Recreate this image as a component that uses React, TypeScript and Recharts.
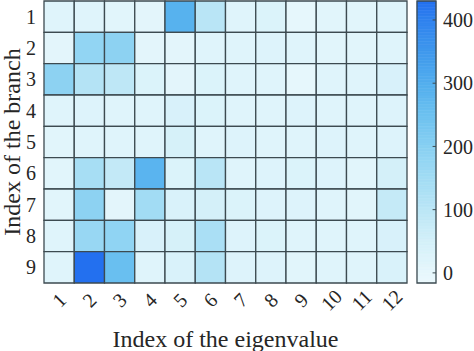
import React from 'react';
import { ComposedChart, XAxis, YAxis, ReferenceArea, ReferenceLine, Scatter, Label } from 'recharts';

const eigenIndex = [1, 2, 3, 4, 5, 6, 7, 8, 9, 10, 11, 12];
const branchIndex = [1, 2, 3, 4, 5, 6, 7, 8, 9];

const branch1 = [20, 20, 15, 10, 290, 105, 20, 30, 0, 15, 15, 20];
const branch2 = [10, 180, 190, 10, 10, 20, 20, 25, 20, 15, 15, 20];
const branch3 = [190, 115, 95, 30, 10, 30, 20, 20, 0, 20, 20, 40];
const branch4 = [20, 25, 20, 20, 40, 30, 20, 20, 25, 20, 20, 25];
const branch5 = [15, 20, 20, 20, 45, 20, 25, 20, 20, 25, 20, 25];
const branch6 = [15, 140, 85, 285, 30, 105, 20, 25, 30, 25, 15, 50];
const branch7 = [15, 190, 10, 150, 35, 50, 30, 25, 25, 20, 15, 80];
const branch8 = [20, 170, 185, 40, 45, 135, 25, 30, 20, 20, 20, 40];
const branch9 = [20, 430, 255, 20, 35, 115, 25, 25, 15, 20, 20, 35];

const branchValues = [branch1, branch2, branch3, branch4, branch5, branch6, branch7, branch8, branch9];

const colorTicks = [0, 100, 200, 300, 400];
const colorMin = -16;
const colorMax = 430;

const stops: [number, string][] = [
  [-16, '#ecf9fd'],
  [50, '#d4f0f9'],
  [100, '#bbe6f6'],
  [150, '#a2dcf4'],
  [200, '#88d0f2'],
  [250, '#6cc1f0'],
  [300, '#52aeee'],
  [350, '#3f98ed'],
  [400, '#2f82ee'],
  [430, '#2370ef'],
];

function hexToRgb(h: string) {
  return [parseInt(h.slice(1, 3), 16), parseInt(h.slice(3, 5), 16), parseInt(h.slice(5, 7), 16)];
}

function colorFor(v: number) {
  if (v <= stops[0][0]) return stops[0][1];
  for (let i = 1; i < stops.length; i++) {
    if (v <= stops[i][0]) {
      const [v0, c0] = stops[i - 1];
      const [v1, c1] = stops[i];
      const t = (v - v0) / (v1 - v0);
      const a = hexToRgb(c0);
      const b = hexToRgb(c1);
      const m = a.map((x, k) => Math.round(x + (b[k] - x) * t));
      return `rgb(${m[0]},${m[1]},${m[2]})`;
    }
  }
  return stops[stops.length - 1][1];
}

const cells = branchIndex.flatMap((b, i) =>
  eigenIndex.map((e, j) => ({ e, b, v: branchValues[i][j] }))
);

const STEPS = 90;
const colorSteps = Array.from({ length: STEPS }, (_, k) => {
  const lo = colorMin + ((colorMax - colorMin) * k) / STEPS;
  const hi = colorMin + ((colorMax - colorMin) * (k + 1)) / STEPS;
  return { x: 0.5, y: (lo + hi) / 2, lo, hi, c: colorFor((lo + hi) / 2) };
});

const FONT = "'Liberation Serif', 'Times New Roman', serif";
const TEXT = '#262626';
const GRID = '#3c4a50';

const XTick = (props: any) => {
  const { x, y, payload } = props;
  const cy = y + 17;
  return (
    <text
      x={x}
      y={cy}
      transform={`rotate(-45, ${x}, ${cy})`}
      textAnchor="middle"
      dominantBaseline="central"
      fontFamily={FONT}
      fontSize={20}
      fill={TEXT}
    >
      {payload.value}
    </text>
  );
};

const YLabel = (props: any) => {
  const vb = props.viewBox || {};
  const cx = 20;
  const cy = (vb.y ?? 1) + (vb.height ?? 282) / 2;
  return (
    <text
      x={cx}
      y={cy}
      transform={`rotate(-90, ${cx}, ${cy})`}
      textAnchor="middle"
      fontFamily={FONT}
      fontSize={24}
      fill={TEXT}
    >
      Index of the branch
    </text>
  );
};

export default function App() {
  return (
    <div style={{ position: 'absolute', left: 0, top: 0, width: 474, height: 351, background: '#fff' }}>
      <ComposedChart
        width={474}
        height={351}
        data={cells}
        margin={{ top: 1, right: 67, left: 0, bottom: 0 }}
        style={{ position: 'absolute', left: 0, top: 0 }}
      >
        <XAxis
          type="number"
          dataKey="e"
          domain={[0.5, 12.5]}
          ticks={eigenIndex}
          interval={0}
          axisLine={false}
          tickLine={false}
          tickSize={0}
          tickMargin={0}
          height={68}
          tick={<XTick />}
          allowDataOverflow
        >
          <Label
            value="Index of the eigenvalue"
            position="insideBottom"
            offset={4}
            style={{ fontFamily: FONT, fontSize: 24, fill: TEXT }}
          />
        </XAxis>
        <YAxis
          type="number"
          dataKey="b"
          domain={[0.5, 9.5]}
          reversed
          ticks={branchIndex}
          interval={0}
          axisLine={false}
          tickLine={false}
          tickSize={0}
          tickMargin={8}
          width={44}
          tick={{ fontFamily: FONT, fontSize: 20, fill: TEXT }}
          allowDataOverflow
          label={<YLabel />}
        />
        {cells.map((c) => (
          <ReferenceArea
            key={`${c.b}-${c.e}`}
            x1={c.e - 0.5}
            x2={c.e + 0.5}
            y1={c.b - 0.5}
            y2={c.b + 0.5}
            fill={colorFor(c.v)}
            fillOpacity={1}
            stroke={GRID}
            strokeWidth={1.3}
            ifOverflow="visible"
          />
        ))}
        <Scatter dataKey="b" isAnimationActive={false} fill="none" shape={() => <g />} />
      </ComposedChart>

      <ComposedChart
        width={74}
        height={351}
        data={colorSteps}
        margin={{ top: 1, right: 0, left: 17, bottom: 68 }}
        style={{ position: 'absolute', left: 400, top: 0 }}
      >
        <XAxis type="number" dataKey="x" domain={[0, 1]} hide allowDataOverflow />
        <YAxis
          type="number"
          dataKey="y"
          orientation="right"
          domain={[colorMin, colorMax]}
          ticks={colorTicks}
          interval={0}
          axisLine={false}
          tickLine={false}
          tickSize={0}
          tickMargin={7}
          width={38}
          tick={{ fontFamily: FONT, fontSize: 20, fill: TEXT, textAnchor: 'start' }}
          allowDataOverflow
        />
        {colorSteps.map((s, k) => (
          <ReferenceArea
            key={k}
            x1={0}
            x2={1}
            y1={s.lo}
            y2={s.hi}
            fill={s.c}
            fillOpacity={1}
            stroke={s.c}
            strokeWidth={0.6}
            ifOverflow="visible"
          />
        ))}
        <ReferenceArea
          x1={0}
          x2={1}
          y1={colorMin}
          y2={colorMax}
          fill="none"
          stroke={GRID}
          strokeWidth={1.3}
          ifOverflow="visible"
        />
        {colorTicks.map((t) => (
          <ReferenceLine
            key={t}
            segment={[{ x: 0.82, y: t }, { x: 1, y: t }]}
            stroke={GRID}
            strokeWidth={1}
            ifOverflow="visible"
          />
        ))}
        <Scatter dataKey="y" isAnimationActive={false} fill="none" shape={() => <g />} />
      </ComposedChart>
    </div>
  );
}
